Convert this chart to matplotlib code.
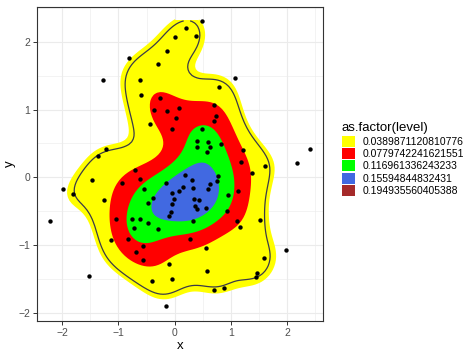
import numpy as np
import matplotlib
matplotlib.use("Agg")
import matplotlib.pyplot as plt
from matplotlib.patches import Patch

plt.rcParams['font.family'] = ['Liberation Sans', 'DejaVu Sans']

# points
x = [0.00, -0.81, -0.13, -0.30, -1.27, -0.62, -0.59, -0.26, -0.36, -0.13,
     0.08, 0.03, -0.44, -0.05, -1.22, -1.37, 0.48, 0.20, 0.37, 1.07,
     0.79, 0.69, 0.74, 0.70, 0.49, 0.39, 0.60, 0.40, 0.62, 0.58,
     0.82, 1.21, 2.40, 2.17, 1.18, -0.70, -1.47, -0.61, -1.99, -0.93,
     -1.80, -0.15, -0.54, -0.04, 0.07, -0.39, -0.02, -0.47, -1.26, -0.04,
     -0.07, -0.11, -2.21, -1.04, -0.75, -0.62, -0.47, -0.72, -0.30, -1.13,
     -0.83, -0.57, -0.69, -0.57, -0.11, -1.52, -0.41, -0.05, -0.16, 1.60,
     0.19, 0.77, 1.37, 0.30, 0.76, 0.63, 0.15, 0.33, 0.60, 1.13,
     0.95, 0.35, 0.43, 0.36, 0.39, 0.56, 0.92, 0.33, 1.11, 1.52,
     1.16, 0.27, 0.56, 1.98, 1.59, 0.57, 1.47, 1.44, 0.88, 0.70]
y = [2.07, 1.76, 1.87, 1.68, 1.44, 1.43, 1.21, 1.17, 1.00, 0.98,
     1.02, 0.88, 0.79, 0.71, 0.41, 0.31, 2.31, 2.20, 2.08, 1.46,
     1.34, 1.06, 0.91, 0.83, 0.71, 0.53, 0.52, 0.45, 0.45, 0.38,
     0.49, 0.40, 0.42, 0.21, 0.22, 0.11, -0.04, -0.02, -0.18, -0.08,
     -0.25, -0.08, -0.18, -0.24, -0.21, -0.30, -0.32, -0.38, -0.33, -0.39,
     -0.52, -0.58, -0.65, -0.62, -0.62, -0.62, -0.68, -0.75, -0.77, -0.93,
     -0.91, -1.02, -1.11, -1.23, -1.28, -1.46, -1.53, -1.51, -1.90, 0.16,
     0.04, 0.02, 0.06, -0.04, -0.06, -0.10, -0.14, -0.16, -0.18, -0.21,
     -0.27, -0.32, -0.33, -0.43, -0.47, -0.46, -0.50, -0.65, -0.65, -0.63,
     -0.73, -0.92, -1.04, -1.07, -1.20, -1.38, -1.42, -1.48, -1.64, -1.67]

levels = [0.0389871120810776, 0.0779742241621551, 0.116961336243233,
          0.15594844832431, 0.194935560405388]
level_labels = ["0.0389871120810776", "0.0779742241621551", "0.116961336243233",
                "0.15594844832431", "0.194935560405388"]
level_colors = ["yellow", "red", "#00FF00", "royalblue", "brown"]


def bandwidth_nrd(v):
    q1, q3 = np.percentile(v, [25, 75])
    return 4 * 1.06 * min(np.std(v, ddof=1), (q3 - q1) / 1.34) * len(v) ** (-0.2)


def kde2d(xs, ys, n=100):
    # same idea as MASS::kde2d
    xs, ys = np.asarray(xs), np.asarray(ys)
    hx, hy = bandwidth_nrd(xs) / 4, bandwidth_nrd(ys) / 4
    gx = np.linspace(xs.min(), xs.max(), n)
    gy = np.linspace(ys.min(), ys.max(), n)
    ax_ = np.exp(-0.5 * ((gx[:, None] - xs[None, :]) / hx) ** 2) / (np.sqrt(2 * np.pi) * hx)
    ay_ = np.exp(-0.5 * ((gy[:, None] - ys[None, :]) / hy) ** 2) / (np.sqrt(2 * np.pi) * hy)
    z = ay_ @ ax_.T / len(xs)
    return gx, gy, z


gx, gy, z = kde2d(x, y)

fig = plt.figure(figsize=(4.74, 3.6), dpi=100)
ax = fig.add_axes([0.0787, 0.1092, 0.6023, 0.8722])

ax.set_xlim(-2.44, 2.63)
ax.set_ylim(-2.12, 2.52)
ax.set_xticks([-2, -1, 0, 1, 2])
ax.set_yticks([-2, -1, 0, 1, 2])
ax.set_xticks([-1.5, -0.5, 0.5, 1.5, 2.5], minor=True)
ax.set_yticks([-1.5, -0.5, 0.5, 1.5, 2.5], minor=True)
ax.grid(which='major', color='#EBEBEB', linewidth=0.8)
ax.grid(which='minor', color='#EBEBEB', linewidth=0.4)
ax.set_axisbelow(True)
ax.tick_params(which='minor', length=0)
ax.tick_params(which='major', length=3, width=0.7, color='#333333',
               labelsize=7.5, labelcolor='#4D4D4D', pad=2)
for s in ax.spines.values():
    s.set_color('#333333')
    s.set_linewidth(0.8)

# the top (brown) band is not visible in the original, so the blue band runs to the peak
fill_levels = levels[:4] + [z.max() + 1]
ax.contourf(gx, gy, z, levels=fill_levels, colors=level_colors[:4], zorder=1)
# polygon outlines make each band a bit wider
ax.contour(gx, gy, z, levels=levels[:4], colors=level_colors[:4], linewidths=3, zorder=1)
ax.contour(gx, gy, z, levels=[levels[0] * 1.08], colors='#3B3B48', linewidths=0.9, zorder=2)

ax.scatter(x, y, s=10, color='black', linewidths=0, zorder=3)

ax.set_xlabel('x', fontsize=9.5, labelpad=2)
ax.set_ylabel('y', fontsize=9.5, labelpad=2)

handles = [Patch(facecolor=c, edgecolor='none') for c in level_colors]
leg = fig.legend(handles, level_labels, title='as.factor(level)',
                 loc='upper left', bbox_to_anchor=(0.71, 0.675),
                 frameon=False, fontsize=7.5, title_fontsize=9.5,
                 handlelength=1.25, handleheight=1.25, handletextpad=0.75,
                 labelspacing=0.13, borderpad=0)
leg._legend_box.align = 'left'

fig.savefig('out.png', dpi=100)
